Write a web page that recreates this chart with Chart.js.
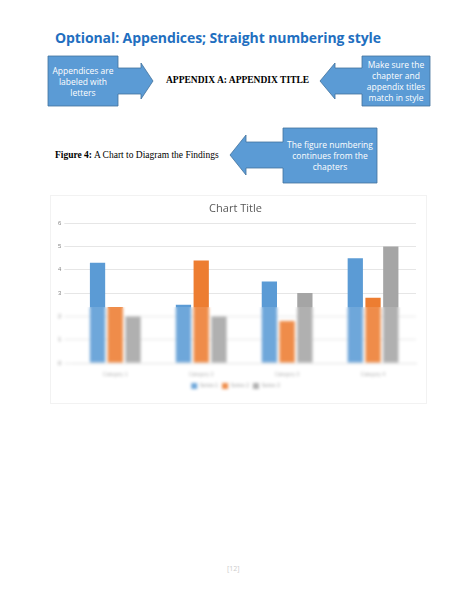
<!DOCTYPE html>
<html><head><meta charset="utf-8">
<script src="https://cdn.jsdelivr.net/npm/chart.js@4"></script>
<style>
body{margin:0;width:474px;height:613px;background:#fff;position:relative;overflow:hidden;font-family:"Open Sans",sans-serif}
.abs{position:absolute}
.box{color:#fff;font-size:8.5px;text-align:center;line-height:11px;display:flex;align-items:center;justify-content:center}
</style></head><body>
<div class="abs" style="left:55px;top:28px;font-size:14px;font-weight:bold;color:#1f6fc0;font-family:'Open Sans',sans-serif;letter-spacing:-0.1px">Optional: Appendices; Straight numbering style</div>
<svg class="abs" style="left:0;top:0" width="474" height="200">
<g fill="#5b9bd5" stroke="#41719c" stroke-width="0.8">
<polygon points="48,56 118,56 118,68 141,68 141,63 153,81 141,99 141,94 118,94 118,106 48,106"/>
<polygon points="430,56 362,56 362,68 335,68 335,63 320,81 335,99 335,94 362,94 362,106 430,106"/>
<polygon points="377,128 283,128 283,142 246,142 246,135 230,155 246,175 246,168 283,168 283,183 377,183"/>
</g></svg>
<div class="abs box" style="left:48px;top:56px;width:70px;height:50px">Appendices are labeled with letters</div>
<div class="abs box" style="left:362px;top:56px;width:68px;height:50px">Make sure the chapter and appendix titles match in style</div>
<div class="abs box" style="left:283px;top:128px;width:94px;height:55px">The figure numbering continues from the chapters</div>
<div class="abs" style="left:166px;top:75px;font-family:'Liberation Serif',serif;font-weight:bold;font-size:9.5px">APPENDIX A: APPENDIX TITLE</div>
<div class="abs" style="left:55px;top:150px;font-family:'Liberation Serif',serif;font-size:9.5px"><b>Figure 4:</b> A Chart to Diagram the Findings</div>
<div class="abs" style="left:50px;top:195px;width:375px;height:207px;border:1px solid #f2f2f2">
<canvas id="c" width="375" height="207"></canvas></div>
<div class="abs" style="left:55px;top:307px;width:368px;height:92px;background:rgba(255,255,255,0.12);backdrop-filter:blur(1.5px)"></div>
<div class="abs" style="left:227px;top:564px;font-size:7px;color:#ccc">[12]</div>
<script>
const categories=["Category 1","Category 2","Category 3","Category 4"];
const series1=[4.3,2.5,3.5,4.5];
const series2=[2.4,4.4,1.8,2.8];
const series3=[2,2,3,5];
const yTicks=[0,1,2,3,4,5,6];
new Chart(document.getElementById('c'),{type:'bar',
data:{labels:categories,datasets:[
{label:'Series 1',data:series1,backgroundColor:'#5b9bd5'},
{label:'Series 2',data:series2,backgroundColor:'#ed7d31'},
{label:'Series 3',data:series3,backgroundColor:'#a5a5a5'}]},
options:{responsive:false,animation:false,
layout:{padding:{left:4,right:10,bottom:4}},
datasets:{bar:{categoryPercentage:0.62,barPercentage:0.86}},
plugins:{title:{display:true,text:'Chart Title',color:'#595959',font:{size:11,family:'Open Sans',weight:'normal'},padding:{top:6,bottom:8}},
legend:{position:'bottom',labels:{boxWidth:6,boxHeight:6,padding:4,font:{size:5},color:'#999'}},tooltip:{enabled:false}},
scales:{y:{min:0,max:6,afterBuildTicks:a=>{a.ticks=yTicks.map(v=>({value:v}))},ticks:{color:'#888',font:{size:6}},grid:{color:'#e6e6e6'},border:{display:false}},
x:{ticks:{color:'#aaa',font:{size:5},padding:1},grid:{display:false},border:{color:'#ddd'}}}}});
</script>
</body></html>
